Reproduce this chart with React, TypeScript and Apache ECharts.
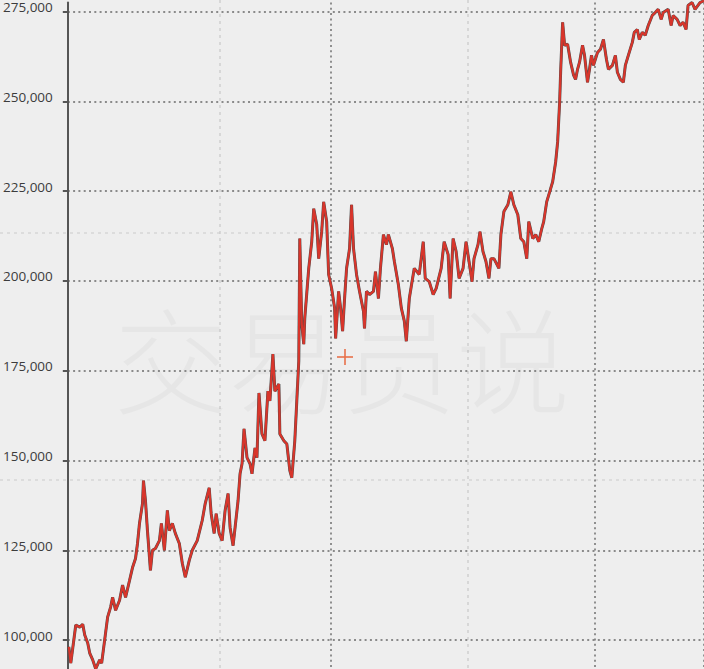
import React, { useEffect, useRef } from "react";
import * as echarts from "echarts";

// trading-day position (x) and price (y)
const day: number[] = [
  1, 3, 8, 12, 15, 17, 20, 22, 25, 28, 32, 34, 37, 40, 43, 45, 48, 52, 55, 58,
  62, 65, 68, 70, 72, 75, 76, 78, 80, 83, 85, 88, 92, 94, 97, 100, 102, 105, 108, 112,
  115, 118, 122, 125, 130, 135, 138, 142, 144, 147, 149, 152, 155, 158, 161, 163, 166, 168, 171, 173,
  175, 177, 180, 183, 185, 188, 190, 192, 195, 198, 201, 203, 206, 208, 212, 213, 217, 220, 223, 225,
  228, 230, 232, 233, 235, 237, 238, 242, 245, 247, 250, 252, 255, 257, 260, 262, 265, 268, 269, 272,
  274, 276, 278, 280, 283, 285, 287, 290, 293, 297, 298, 300, 303, 307, 309, 312, 314, 317, 320, 322,
  326, 328, 332, 335, 338, 340, 343, 345, 348, 353, 357, 359, 363, 367, 370, 375, 378, 382, 384, 387,
  390, 393, 397, 400, 403, 406, 408, 412, 414, 417, 420, 423, 425, 428, 433, 435, 438, 442, 445, 448,
  452, 455, 458, 461, 463, 467, 470, 473, 476, 478, 481, 484, 487, 490, 492, 494, 495, 497, 499, 502,
  505, 508, 510, 512, 514, 517, 519, 522, 524, 526, 528, 532, 535, 538, 541, 543, 547, 550, 552, 555,
  558, 560, 563, 567, 569, 572, 574, 577, 580, 583, 587, 590, 593, 596, 598, 603, 606, 608, 612, 615,
  618, 621, 623, 627, 630, 635, 639,
];

const price: number[] = [
  98100, 93600, 104200, 103600, 104400, 101400, 99200, 96400, 94500, 92000,
  94500, 93600, 100000, 106400, 109200, 111900, 108300, 111100, 115300, 111900,
  116600, 120200, 122700, 126900, 132500, 138000, 144400, 138800, 130500, 119400,
  125000, 125500, 127700, 132500, 125000, 136100, 130500, 132500, 129700, 126900,
  121400, 117500, 122200, 125000, 127700, 133300, 138000, 142400, 135200, 129700,
  135200, 129700, 127700, 136100, 140800, 131300, 126300, 131300, 138800, 146300,
  149100, 158800, 150800, 149100, 146300, 153500, 150800, 168800, 157400, 155500,
  169300, 166600, 179600, 169300, 171300, 157400, 155500, 154600, 147200, 145200,
  155500, 166600, 177700, 211800, 187900, 182400, 189600, 203500, 210900, 220100,
  215700, 206200, 213700, 222000, 216500, 201800, 197900, 192400, 184000, 197100,
  192400, 186000, 195100, 203500, 209000, 221200, 209000, 201800, 197100, 191500,
  186800, 197100, 196200, 197100, 202600, 195100, 203500, 212900, 210100, 212900,
  209000, 205400, 199000, 192400, 188800, 183200, 195100, 198500, 203500, 201800,
  210900, 200700, 199800, 196200, 197900, 203500, 210900, 207300, 195100, 211800,
  208200, 200700, 203500, 210900, 205400, 199800, 206200, 210100, 213700, 208200,
  205400, 200700, 206200, 206200, 203500, 212900, 219300, 221200, 224800, 221200,
  218400, 211800, 210900, 206200, 216500, 211800, 212900, 210900, 214500, 216500,
  222000, 224800, 227600, 233100, 238700, 249800, 258100, 272000, 265600, 265900,
  260900, 257300, 256100, 258900, 260900, 265600, 262800, 255300, 258900, 262800,
  260000, 263600, 264500, 267200, 261700, 258900, 260000, 262800, 258100, 256100,
  255300, 260000, 262800, 266400, 269200, 270000, 267200, 269200, 268400, 271100,
  273900, 274700, 275600, 272800, 274700, 275600, 271100, 273900, 272800, 271100,
  272000, 270000, 276700, 277500, 275600, 277500, 278000,
];

// visible price window and tick step
const priceMin = 91957;
const priceMax = 277504;
const priceStep = 25000;

export default function App() {
  const ref = useRef<HTMLDivElement>(null);
  useEffect(() => {
    if (!ref.current) return;
    const chart = echarts.init(ref.current, null, { renderer: "svg" });
    const pts = day.map((d, i) => [d, price[i]]);
    const ghost = { stroke: "#c9c9c9", lineWidth: 1.2, lineDash: [3, 4] };
    chart.setOption({
      animation: false,
      backgroundColor: "#eeeeee",
      grid: { left: 65, right: 0, top: 0, bottom: 0 },
      xAxis: {
        type: "value",
        min: 0,
        max: 639,
        interval: 264.5,
        axisLine: { show: false },
        axisTick: { show: false },
        axisLabel: { show: false },
        splitLine: { show: true, lineStyle: { color: "#707070", width: 1.5, type: [2, 3.3] } },
      },
      yAxis: {
        type: "value",
        min: priceMin,
        max: priceMax,
        minInterval: priceStep,
        maxInterval: priceStep,
        offset: 3,
        axisLine: { show: true, lineStyle: { color: "#555555", width: 2 } },
        axisTick: { show: true, length: 5, lineStyle: { color: "#555555", width: 2 } },
        axisLabel: {
          margin: 12,
          color: "#3c3c3c",
          fontSize: 13.5,
          fontFamily: "Open Sans",
          verticalAlign: "bottom",
          lineHeight: 9,
          showMinLabel: false,
          showMaxLabel: false,
          formatter: (v: number) => v.toLocaleString("en-US"),
        },
        splitLine: {
          show: true,
          showMinLine: false,
          showMaxLine: false,
          lineStyle: { color: "#6a6a6a", width: 1.5, type: [2, 3.3] },
        },
      },
      graphic: [
        { type: "line", z: 0, shape: { x1: 0, y1: 233, x2: 704, y2: 233 }, style: ghost, silent: true },
        { type: "line", z: 0, shape: { x1: 0, y1: 480, x2: 704, y2: 480 }, style: ghost, silent: true },
        { type: "line", z: 0, shape: { x1: 220, y1: 0, x2: 220, y2: 669 }, style: ghost, silent: true },
        { type: "line", z: 0, shape: { x1: 468, y1: 0, x2: 468, y2: 669 }, style: ghost, silent: true },
        {
          type: "text",
          z: 0,
          x: 342,
          y: 355,
          silent: true,
          style: {
            text: "交易员说",
            fill: "rgba(0,0,0,0.03)",
            font: "300 114px 'Noto Sans CJK SC'",
            align: "center",
            verticalAlign: "middle",
          },
        },
        { type: "line", z: 10, shape: { x1: 337, y1: 357, x2: 353, y2: 357 }, style: { stroke: "#e8704a", lineWidth: 1.6 } },
        { type: "line", z: 10, shape: { x1: 345, y1: 349, x2: 345, y2: 365 }, style: { stroke: "#e8704a", lineWidth: 1.6 } },
      ],
      series: [
        {
          type: "line",
          data: pts,
          showSymbol: false,
          clip: false,
          lineStyle: { color: "#4d4d4d", width: 3 },
        },
        {
          type: "line",
          data: pts,
          showSymbol: false,
          clip: false,
          lineStyle: { color: "#d8352b", width: 2.2 },
        },
      ],
    });
    return () => chart.dispose();
  }, []);
  return <div ref={ref} style={{ position: "fixed", left: 0, top: 0, width: 704, height: 669 }} />;
}
